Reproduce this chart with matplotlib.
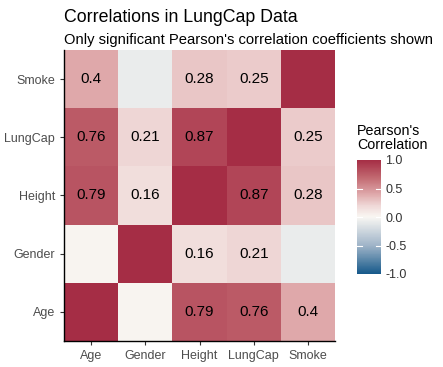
import matplotlib.pyplot as plt
import numpy as np
from matplotlib.colors import LinearSegmentedColormap

plt.rcParams['font.family'] = ['Liberation Sans', 'DejaVu Sans']

variables = ["Age", "Gender", "Height", "LungCap", "Smoke"]
age = [1.0, 0.02, 0.79, 0.76, 0.40]
gender = [0.02, 1.0, 0.16, 0.21, -0.08]
height = [0.79, 0.16, 1.0, 0.87, 0.28]
lungcap = [0.76, 0.21, 0.87, 1.0, 0.25]
smoke = [0.40, -0.08, 0.28, 0.25, 1.0]
significant = [
    [False, False, True, True, True],
    [False, False, True, True, False],
    [True, True, False, True, True],
    [True, True, True, False, True],
    [True, False, True, True, False],
]

corr = np.array([age, gender, height, lungcap, smoke])

cmap = LinearSegmentedColormap.from_list("pearson", [
    (0.0, "#16598a"), (0.25, "#9fb4c8"), (0.5, "#f9f7f3"),
    (0.6, "#efd8d7"), (0.7, "#dfa9ab"), (0.85, "#c1676f"), (1.0, "#a52d45")])

fig = plt.figure(figsize=(4.43, 3.67), dpi=100)
ax = fig.add_axes([64 / 443, 1 - 341 / 367, 271 / 443, 291 / 367])
mesh = ax.pcolormesh(np.arange(6) - 0.5, np.arange(6) - 0.5, corr, cmap=cmap, vmin=-1, vmax=1)
for i in range(5):
    for j in range(5):
        if significant[i][j]:
            ax.text(j, i, f"{corr[i, j]:g}", ha="center", va="center", fontsize=11, color="black")

ax.set_xlim(-0.5, 4.5); ax.set_ylim(-0.5, 4.5)
ax.set_xticks(range(5)); ax.set_xticklabels(variables)
ax.set_yticks(range(5)); ax.set_yticklabels(variables)
ax.tick_params(colors="#333333", labelcolor="#4d4d4d", labelsize=9, length=3, width=0.8)
for side in ["top", "right"]:
    ax.spines[side].set_visible(False)
for side in ["left", "bottom"]:
    ax.spines[side].set_linewidth(1.0)

fig.text(64 / 443, 1 - 18 / 367, "Correlations in LungCap Data", fontsize=12.8, va="center")
fig.text(64 / 443, 1 - 40 / 367, "Only significant Pearson's correlation coefficients shown", fontsize=10.6, va="center")

cax = fig.add_axes([357 / 443, 1 - 274 / 367, 24 / 443, 114 / 367])
cb = fig.colorbar(mesh, cax=cax, ticks=[-1, -0.5, 0, 0.5, 1])
cb.outline.set_visible(False)
cb.ax.set_yticklabels(["-1.0", "-0.5", "0.0", "0.5", "1.0"])
cb.ax.tick_params(length=0, labelsize=9, labelcolor="#333333", pad=3)
for v in [-0.5, 0, 0.5]:
    cax.plot([0, 0.2], [v, v], color="white", lw=0.8, transform=cax.get_yaxis_transform())
    cax.plot([0.8, 1], [v, v], color="white", lw=0.8, transform=cax.get_yaxis_transform())
fig.text(357 / 443, 1 - 138 / 367, "Pearson's\nCorrelation", fontsize=10.3, va="center", linespacing=0.95)

plt.savefig("out.png", dpi=100)
